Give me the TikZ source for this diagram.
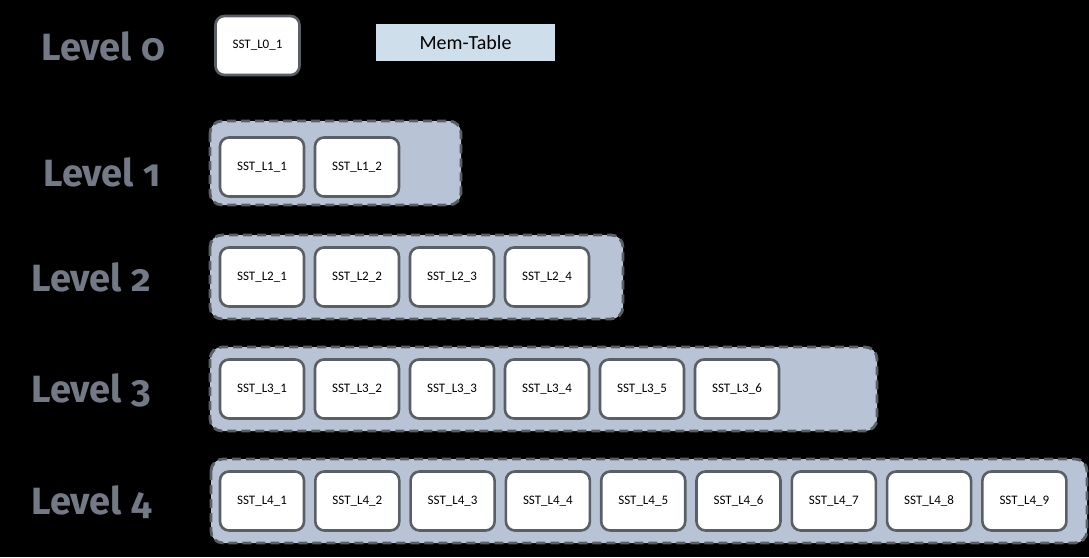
\documentclass[tikz,border=0pt]{standalone}
\usepackage{fontspec}
\setmainfont{Carlito}
\newfontfamily\lvlfont[Numbers=OldStyle]{Fira Sans}
\usetikzlibrary{positioning}
\definecolor{cont}{HTML}{B8C4D6}
\definecolor{edge}{HTML}{5A5F66}
\definecolor{lbl}{HTML}{737985}
\definecolor{mem}{HTML}{CFDEEB}
\tikzset{
 sst/.style={draw=edge, line width=2.6pt, fill=white, rounded corners=9pt, minimum width=84pt, minimum height=59pt, inner sep=0pt, font=\fontsize{13}{13}\selectfont},
 cont/.style={draw=edge, line width=2.8pt, dash pattern=on 9pt off 5pt, fill=cont, rounded corners=12pt},
 lvl/.style={text=lbl, font=\lvlfont\bfseries\fontsize{38}{38}\selectfont, anchor=west}
}
\begin{document}
\begin{tikzpicture}[x=1pt,y=-1pt]
\fill[black] (0,0) rectangle (1089,557);
\useasboundingbox (0,0) rectangle (1089,557);
\node[lvl] (lv0) at (38,46) {Level 0};
\node[lvl] (lv1) at (40,172) {Level 1};
\node[lvl] (lv2) at (28,277) {Level 2};
\node[lvl] (lv3) at (28,390) {Level 3};
\node[lvl] (lv4) at (28,502) {Level 4};
\node[sst] (s0) at (257.5,45.5) {SST\_L0\_1};
\node[fill=mem, minimum width=179pt, minimum height=37pt, font=\fontsize{20}{20}\selectfont] (mt) at (465.5,42.5) {Mem-Table};
\draw[cont] (210,121) rectangle (461,205);
\draw[cont] (210,235) rectangle (623,319);
\draw[cont] (210,347) rectangle (877,431);
\draw[cont] (211,459) rectangle (1087,543);
\foreach \n in {1,2}{\node[sst] (a\n) at ({262+95*(\n-1)},167) {SST\_L1\_\n};}
\foreach \n in {1,...,4}{\node[sst] (b\n) at ({262+95*(\n-1)},277) {SST\_L2\_\n};}
\foreach \n in {1,...,6}{\node[sst] (c\n) at ({262+95*(\n-1)},389) {SST\_L3\_\n};}
\foreach \n in {1,...,9}{\node[sst] (d\n) at ({262+95.3*(\n-1)},501) {SST\_L4\_\n};}
\end{tikzpicture}
\end{document}
